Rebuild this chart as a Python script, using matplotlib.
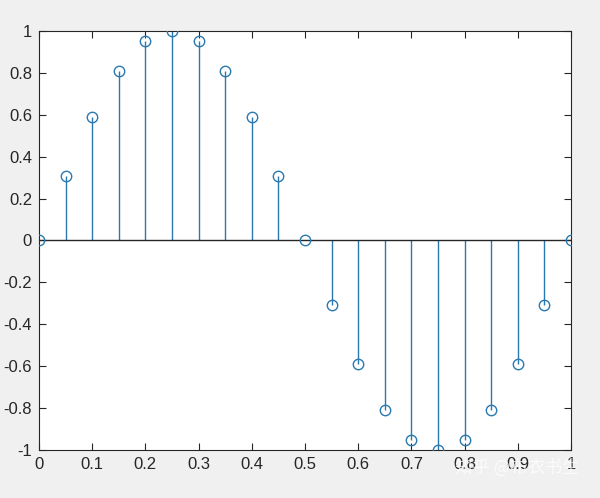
import matplotlib
matplotlib.use("Agg")
import matplotlib.pyplot as plt

t = [0, 0.05, 0.1, 0.15, 0.2, 0.25, 0.3, 0.35, 0.4, 0.45, 0.5,
     0.55, 0.6, 0.65, 0.7, 0.75, 0.8, 0.85, 0.9, 0.95, 1.0]
y = [0, 0.309, 0.588, 0.809, 0.951, 1.0, 0.951, 0.809, 0.588, 0.309, 0,
     -0.309, -0.588, -0.809, -0.951, -1.0, -0.951, -0.809, -0.588, -0.309, 0]
xticks = [0, 0.1, 0.2, 0.3, 0.4, 0.5, 0.6, 0.7, 0.8, 0.9, 1]
xticklabels = ['0', '0.1', '0.2', '0.3', '0.4', '0.5', '0.6', '0.7', '0.8', '0.9', '1']
yticks = [-1, -0.8, -0.6, -0.4, -0.2, 0, 0.2, 0.4, 0.6, 0.8, 1]
yticklabels = ['-1', '-0.8', '-0.6', '-0.4', '-0.2', '0', '0.2', '0.4', '0.6', '0.8', '1']

plt.rcParams['font.family'] = ['Liberation Sans', 'DejaVu Sans']
color = '#1f77b4'
color = '#2a78b0'

fig = plt.figure(figsize=(6, 4.98), dpi=100, facecolor='#f0f0f0')
ax = fig.add_axes([0.065, 0.0964, 0.8867, 0.8414])
ax.set_facecolor('white')

markerline, stemlines, baseline = ax.stem(t, y, linefmt='-', markerfmt='o', basefmt='-')
plt.setp(stemlines, color=color, linewidth=1.0)
plt.setp(markerline, markerfacecolor='none', markeredgecolor=color, markersize=7.5, markeredgewidth=1.0, zorder=3)
plt.setp(baseline, color='#262626', linewidth=1.0)
baseline.set_xdata([0, 1])

ax.set_xlim(0, 1)
ax.set_ylim(-1, 1)
ax.set_xticks(xticks)
ax.set_xticklabels(xticklabels)
ax.set_yticks(yticks)
ax.set_yticklabels(yticklabels)
ax.tick_params(direction='in', top=True, right=True, length=5, width=0.8,
               colors='#262626', labelsize=12, pad=5)
for s in ax.spines.values():
    s.set_color('#262626')
    s.set_linewidth(0.8)

fig.text(0.758, 0.062, '知乎 @布衣书生', fontsize=12.5, color='white', alpha=0.75,
         family=['Noto Sans CJK SC', 'DejaVu Sans'], ha='left', va='center')

fig.savefig('out.png', dpi=100, facecolor=fig.get_facecolor())
